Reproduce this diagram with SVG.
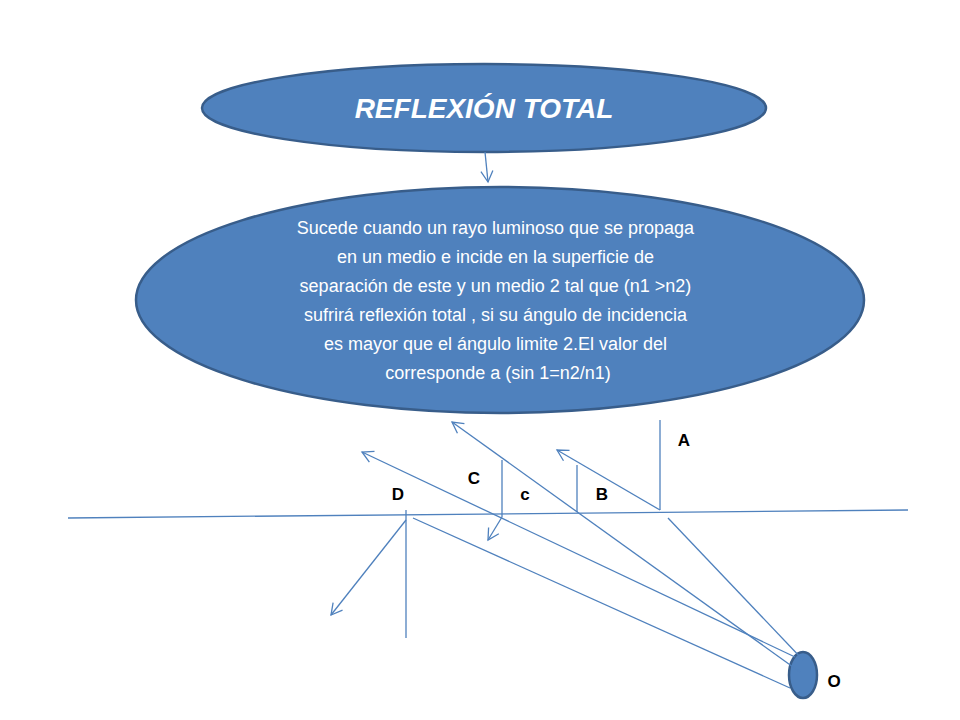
<svg xmlns="http://www.w3.org/2000/svg" width="960" height="720" viewBox="0 0 960 720">
<defs>
<style>
.n{fill:#4F81BD;stroke:#385D8A;stroke-width:2.5}
.l{stroke:#4F81BD;stroke-width:1.3;fill:none}
.a{marker-end:url(#ar)}
.t{fill:#fff;font-family:"Liberation Sans",Arial,sans-serif;font-size:18px;text-anchor:middle}
.lb{fill:#000;font-family:"Liberation Sans",Arial,sans-serif;font-size:17px;font-weight:bold;text-anchor:middle}
</style>
<marker id="ar" markerWidth="14" markerHeight="14" refX="12" refY="7" orient="auto" markerUnits="userSpaceOnUse">
<path d="M1,1 L12,7 L1,13" fill="none" stroke="#4F81BD" stroke-width="1.3"/>
</marker>
</defs>
<rect width="960" height="720" fill="#fff"/>
<g id="title">
<ellipse class="n" cx="484" cy="108" rx="282" ry="44"/>
<text x="484" y="118" class="t" style="font-size:28px;font-style:italic;font-weight:bold">REFLEXIÓN TOTAL</text>
</g>
<g id="desc">
<ellipse class="n" cx="500" cy="300" rx="364" ry="113"/>
<text class="t">
<tspan x="498" y="234">Sucede cuando un rayo luminoso que se propaga</tspan>
<tspan x="498" y="263">en un medio e incide en la superficie de</tspan>
<tspan x="498" y="292">separación de este y un medio 2 tal que (n1 &gt;n2)</tspan>
<tspan x="498" y="321">sufrirá reflexión total , si su ángulo de incidencia</tspan>
<tspan x="498" y="350">es mayor que el ángulo limite 2.El valor del</tspan>
<tspan x="498" y="379">corresponde a (sin 1=n2/n1)</tspan>
</text>
</g>
<g id="O">
<ellipse class="n" cx="803" cy="675" rx="14" ry="23"/>
</g>
<g id="connectors">
<line class="l a" x1="485" y1="152" x2="488" y2="182"/>
<line class="l" x1="68" y1="518" x2="908" y2="510"/>
<line class="l" x1="660" y1="420" x2="660" y2="510"/>
<line class="l a" x1="660" y1="510" x2="557" y2="450"/>
<line class="l" x1="668" y1="518" x2="803" y2="660"/>
<line class="l" x1="577" y1="465" x2="577" y2="512"/>
<line class="l a" x1="800" y1="672" x2="452" y2="422"/>
<line class="l" x1="502" y1="460" x2="502" y2="517"/>
<line class="l a" x1="795" y1="657" x2="362" y2="452"/>
<line class="l a" x1="502" y1="517" x2="488" y2="540"/>
<line class="l" x1="406" y1="510" x2="406" y2="638"/>
<line class="l a" x1="406" y1="520" x2="331" y2="615"/>
<line class="l" x1="413" y1="518" x2="790" y2="688"/>
</g>
<g id="labels">
<text class="lb" x="684" y="446">A</text>
<text class="lb" x="398" y="500">D</text>
<text class="lb" x="474" y="484">C</text>
<text class="lb" x="525" y="500">c</text>
<text class="lb" x="602" y="500">B</text>
<text class="lb" x="834" y="687">O</text>
</g>
</svg>
